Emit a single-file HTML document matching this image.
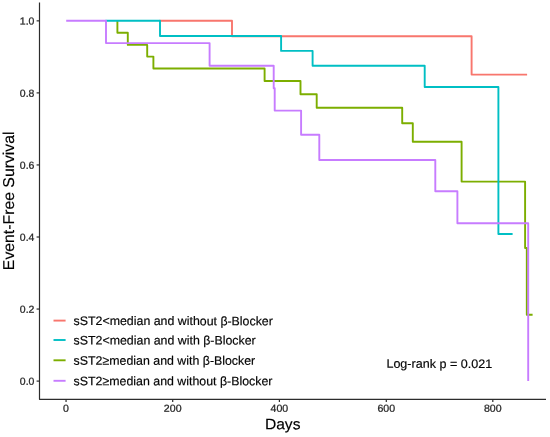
<!DOCTYPE html>
<html><head><meta charset="utf-8"><title>Event-Free Survival</title>
<style>
html,body{margin:0;padding:0;background:#fff;}
body{width:550px;height:437px;overflow:hidden;}
svg{display:block;}
text{font-family:"Liberation Sans",Arial,Helvetica,sans-serif;text-rendering:geometricPrecision;}
.tk{font-size:10.2px;fill:#262626;stroke:#262626;stroke-width:0.26;}
.lg{font-size:12.35px;fill:#050505;stroke:#050505;stroke-width:0.18;}
.tt{font-size:15.25px;fill:#000;stroke:#000;stroke-width:0.15;}
.ty{font-size:15.7px;fill:#000;stroke:#000;stroke-width:0.15;}
.cv{fill:none;stroke-width:1.9;stroke-linejoin:round;stroke-linecap:butt;}
</style></head><body>
<svg width="550" height="437" viewBox="0 0 550 437">
<rect x="0" y="0" width="550" height="437" fill="#ffffff"/>
<path class="cv" stroke="#F8766D" d="M159.5,20.8 L232.0,20.8 L232.0,36.2 L471.6,36.2 L471.6,74.6 L527.1,74.6"/>
<path class="cv" stroke="#7CAE00" d="M117.4,20.8 L117.4,20.8 L117.4,32.8 L127.8,32.8 L127.8,44.9 L147.2,44.9 L147.2,56.6 L153.4,56.6 L153.4,68.5 L264.6,68.5 L264.6,81.0 L300.5,81.0 L300.5,94.2 L316.7,94.2 L316.7,107.8 L402.2,107.8 L402.2,123.2 L412.8,123.2 L412.8,141.7 L461.6,141.7 L461.6,181.6 L525.1,181.6 L525.1,248.0 L526.8,248.0 L526.8,314.7 L532.6,314.7"/>
<path class="cv" stroke="#00BFC4" d="M105.5,20.8 L160.0,20.8 L160.0,36.0 L281.1,36.0 L281.1,50.9 L312.6,50.9 L312.6,65.7 L424.7,65.7 L424.7,87.0 L498.4,87.0 L498.4,234.0 L512.6,234.0"/>
<path class="cv" stroke="#C77CFF" d="M66.2,20.8 L106.0,20.8 L106.0,43.1 L209.6,43.1 L209.6,65.7 L273.7,65.7 L273.7,88.2 L274.7,88.2 L274.7,110.6 L301.1,110.6 L301.1,134.8 L319.3,134.8 L319.3,160.0 L435.3,160.0 L435.3,191.3 L457.4,191.3 L457.4,223.3 L528.2,223.3 L528.2,380.9"/>
<path d="M39.5,2.5 L39.5,399.3 L546,399.3" stroke="#2c2c2c" stroke-width="1.2" stroke-linejoin="round" fill="none"/>
<path d="M36.6,20.85 L39.5,20.85" stroke="#2c2c2c" stroke-width="1.2"/>
<text class="tk" transform="translate(34.40,24.60) matrix(1,0.0006,0,1,0,0) scale(1.03,1)" text-anchor="end">1.0</text>
<path d="M36.6,92.90 L39.5,92.90" stroke="#2c2c2c" stroke-width="1.2"/>
<text class="tk" transform="translate(34.40,96.65) matrix(1,0.0006,0,1,0,0) scale(1.03,1)" text-anchor="end">0.8</text>
<path d="M36.6,164.95 L39.5,164.95" stroke="#2c2c2c" stroke-width="1.2"/>
<text class="tk" transform="translate(34.40,168.70) matrix(1,0.0006,0,1,0,0) scale(1.03,1)" text-anchor="end">0.6</text>
<path d="M36.6,237.00 L39.5,237.00" stroke="#2c2c2c" stroke-width="1.2"/>
<text class="tk" transform="translate(34.40,240.75) matrix(1,0.0006,0,1,0,0) scale(1.03,1)" text-anchor="end">0.4</text>
<path d="M36.6,309.05 L39.5,309.05" stroke="#2c2c2c" stroke-width="1.2"/>
<text class="tk" transform="translate(34.40,312.80) matrix(1,0.0006,0,1,0,0) scale(1.03,1)" text-anchor="end">0.2</text>
<path d="M36.6,381.10 L39.5,381.10" stroke="#2c2c2c" stroke-width="1.2"/>
<text class="tk" transform="translate(34.40,384.85) matrix(1,0.0006,0,1,0,0) scale(1.03,1)" text-anchor="end">0.0</text>
<path d="M66.05,399.3 L66.05,401.9" stroke="#2c2c2c" stroke-width="1.2"/>
<text class="tk" transform="translate(66.05,411.65) matrix(1,0.0006,0,1,0,0) scale(1.04,1)" text-anchor="middle">0</text>
<path d="M172.7,399.3 L172.7,401.9" stroke="#2c2c2c" stroke-width="1.2"/>
<text class="tk" transform="translate(172.70,411.65) matrix(1,0.0006,0,1,0,0) scale(1.04,1)" text-anchor="middle">200</text>
<path d="M279.4,399.3 L279.4,401.9" stroke="#2c2c2c" stroke-width="1.2"/>
<text class="tk" transform="translate(279.40,411.65) matrix(1,0.0006,0,1,0,0) scale(1.04,1)" text-anchor="middle">400</text>
<path d="M386.3,399.3 L386.3,401.9" stroke="#2c2c2c" stroke-width="1.2"/>
<text class="tk" transform="translate(386.30,411.65) matrix(1,0.0006,0,1,0,0) scale(1.04,1)" text-anchor="middle">600</text>
<path d="M492.8,399.3 L492.8,401.9" stroke="#2c2c2c" stroke-width="1.2"/>
<text class="tk" transform="translate(492.80,411.65) matrix(1,0.0006,0,1,0,0) scale(1.04,1)" text-anchor="middle">800</text>
<path d="M53.5,320.6 L65.6,320.6" stroke="#F8766D" stroke-width="1.9"/>
<text class="lg" transform="translate(73.60,325.05) matrix(1,0.0006,0,1,0,0) scale(1.002,1)">sST2&lt;median and without β-Blocker</text>
<path d="M53.5,340.0 L65.6,340.0" stroke="#00BFC4" stroke-width="1.9"/>
<text class="lg" transform="translate(73.60,344.45) matrix(1,0.0006,0,1,0,0) scale(1.002,1)">sST2&lt;median and with β-Blocker</text>
<path d="M53.5,360.3 L65.6,360.3" stroke="#7CAE00" stroke-width="1.9"/>
<text class="lg" transform="translate(73.60,364.75) matrix(1,0.0006,0,1,0,0) scale(1.002,1)">sST2≥median and with β-Blocker</text>
<path d="M53.5,380.8 L65.6,380.8" stroke="#C77CFF" stroke-width="1.9"/>
<text class="lg" transform="translate(73.60,385.25) matrix(1,0.0006,0,1,0,0) scale(1.002,1)">sST2≥median and without β-Blocker</text>
<text class="lg" transform="translate(386.40,367.85) matrix(1,0.0006,0,1,0,0) scale(1.017,1)">Log-rank p = 0.021</text>
<text class="tt" transform="translate(282.70,429.35) matrix(1,0.0006,0,1,0,0) scale(1.025,1)" text-anchor="middle">Days</text>
<text class="ty" transform="translate(14.30,200.80) rotate(-90) scale(1.007,1)" text-anchor="middle">Event-Free Survival</text>
</svg>
</body></html>
